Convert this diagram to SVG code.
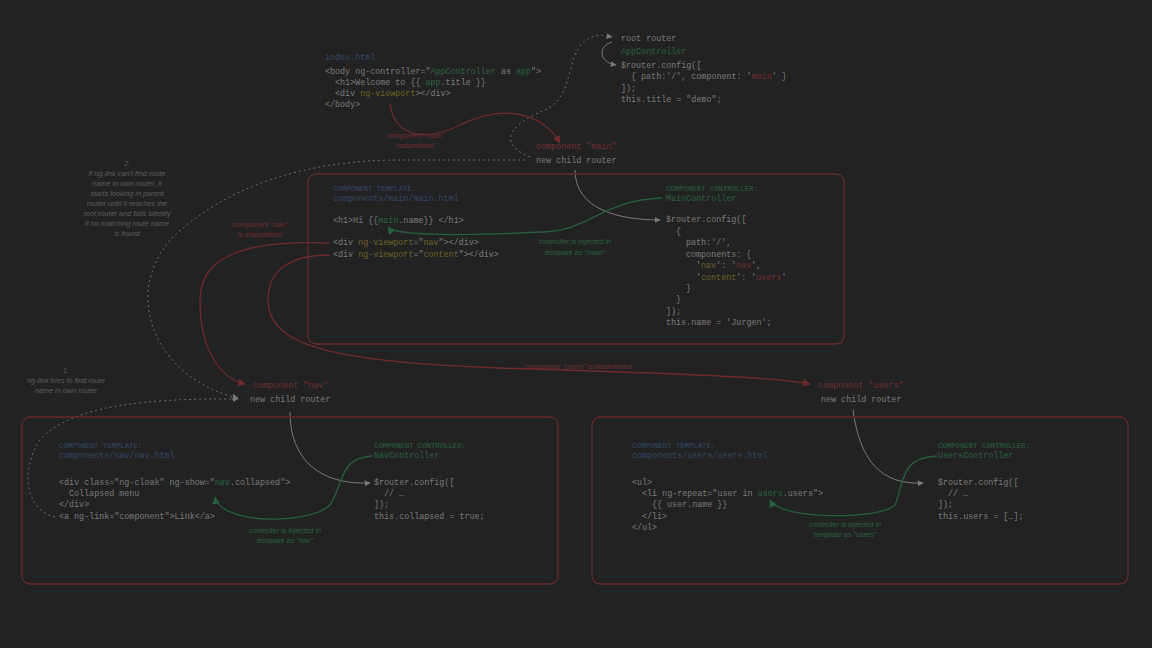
<svg xmlns="http://www.w3.org/2000/svg" width="1152" height="648" viewBox="0 0 1152 648">
<defs>
<style>
.c{font-family:"Liberation Mono",monospace;font-size:8.4px;fill:#7c7c7c}
.s{font-family:"Liberation Mono",monospace;font-size:7.3px}
.b{fill:#33496a}.g{fill:#2a6240}.r{fill:#723030}.y{fill:#6e6128}
.n{font-family:"Liberation Sans",sans-serif;font-size:7.3px;font-style:italic;text-anchor:middle}
.w{fill:#5e5e5e}
.box{fill:none;stroke:#642b2b;stroke-width:1.3}
.lr{fill:none;stroke:#6e2c2c;stroke-width:1.3}
.lg{fill:none;stroke:#285e3c;stroke-width:1.3}
.lw{fill:none;stroke:#7a7a7a;stroke-width:1}
.ld{fill:none;stroke:#6e6e6e;stroke-width:1;stroke-dasharray:2 3}
</style>
<marker id="ar" viewBox="0 0 10 10" refX="9" refY="5" markerWidth="6" markerHeight="6" orient="auto"><path d="M0,0L10,5L0,10z" fill="#6e2c2c"/></marker>
<marker id="ag" viewBox="0 0 10 10" refX="9" refY="5" markerWidth="6" markerHeight="6" orient="auto"><path d="M0,0L10,5L0,10z" fill="#285e3c"/></marker>
<marker id="aw" viewBox="0 0 10 10" refX="9" refY="5" markerWidth="6" markerHeight="6" orient="auto"><path d="M0,0L10,5L0,10z" fill="#7a7a7a"/></marker>
</defs>
<rect width="1152" height="648" fill="#222222"/>

<g id="connectors">
<path class="lw" d="M612,42 C598,46 598,62 616,65" marker-end="url(#aw)"/>
<path class="ld" d="M530,157 C490,140 520,120 545,110 C580,95 560,40 600,35 L612,37" marker-end="url(#aw)"/>
<path class="lr" d="M390,104 C395,140 430,140 460,125 C500,105 540,110 560,143" marker-end="url(#ar)"/>
<path class="lw" d="M575,170 C575,210 620,220 660,220" marker-end="url(#aw)"/>
<path class="lg" d="M662,198 C600,200 590,232 540,232 C470,236 395,236 388,227" marker-end="url(#ag)"/>
<path class="lr" d="M330,243 C260,240 200,250 200,300 C200,350 220,378 245,384" marker-end="url(#ar)"/>
<path class="lr" d="M330,255 C290,255 268,270 268,300 C268,345 330,362 500,368 C700,374 780,378 810,384" marker-end="url(#ar)"/>
<path class="ld" d="M525,160 L400,160 C300,160 220,190 170,240 C120,300 160,380 238,398" marker-end="url(#aw)"/>
<path class="ld" d="M55,517 C25,510 20,470 40,440 C70,405 150,398 238,399" marker-end="url(#aw)"/>
<path class="lw" d="M290,412 C290,460 320,485 370,483" marker-end="url(#aw)"/>
<path class="lg" d="M372,456 C340,458 345,480 330,505 C310,525 220,525 215,497" marker-end="url(#ag)"/>
<path class="lw" d="M853,410 C860,460 880,485 923,483" marker-end="url(#aw)"/>
<path class="lg" d="M937,456 C900,458 905,480 895,505 C880,520 780,520 770,500" marker-end="url(#ag)"/>
</g>

<g id="notes">
<text class="n w" x="127" y="166">2.</text>
<text class="n w" x="127" y="176">if ng-link can't find route</text>
<text class="n w" x="127" y="186">name in own router, it</text>
<text class="n w" x="127" y="196">starts looking in parent</text>
<text class="n w" x="127" y="206">router until it reaches the</text>
<text class="n w" x="127" y="216">root router and fails silently</text>
<text class="n w" x="127" y="226">if no matching route name</text>
<text class="n w" x="127" y="236">is found</text>
<text class="n w" x="66" y="373">1.</text>
<text class="n w" x="66" y="383">ng-link tries to find route</text>
<text class="n w" x="66" y="393">name in own router</text>
<text class="n r" x="415" y="138">component 'main'</text>
<text class="n r" x="415" y="148">instantiated</text>
<text class="n r" x="260" y="227">component "nav"</text>
<text class="n r" x="260" y="237">is instantiated</text>
<text class="n r" x="578" y="369">component "users" is instantiated</text>
<text class="n g" x="575" y="244">controller is injected in</text>
<text class="n g" x="575" y="255">template as "main"</text>
<text class="n g" x="285" y="533">controller is injected in</text>
<text class="n g" x="285" y="543">template as "nav"</text>
<text class="n g" x="845" y="527">controller is injected in</text>
<text class="n g" x="845" y="537">template as "users"</text>
</g>

<g id="index">
<text class="c b" x="325" y="60">index.html</text>
<text class="c" x="325" y="74">&lt;body ng-controller="<tspan class="g">AppController</tspan> as <tspan class="g">app</tspan>"&gt;</text>
<text class="c" x="335" y="85">&lt;h1&gt;Welcome to {{ <tspan class="g">app</tspan>.title }}</text>
<text class="c" x="335" y="96">&lt;div <tspan class="y">ng-viewport</tspan>&gt;&lt;/div&gt;</text>
<text class="c" x="325" y="107">&lt;/body&gt;</text>
</g>

<g id="root">
<text class="c" x="621" y="41">root router</text>
<text class="c g" x="621" y="54">AppController</text>
<text class="c" x="621" y="68">$router.config([</text>
<text class="c" x="631" y="79">{ path:'/', component: '<tspan class="r">main</tspan>' }</text>
<text class="c" x="621" y="91">]);</text>
<text class="c" x="621" y="102">this.title = "demo";</text>
</g>

<g id="main-router">
<text class="c r" x="536" y="149">component "main"</text>
<text class="c" x="536" y="163">new child router</text>
</g>

<g id="main">
<rect class="box" x="308" y="174" width="536" height="170" rx="8"/>
<text class="s b" x="333" y="191">COMPONENT TEMPLATE:</text>
<text class="c b" x="333" y="201">components/main/main.html</text>
<text class="c" x="333" y="223">&lt;h1&gt;Hi {{<tspan class="g">main</tspan>.name}} &lt;/h1&gt;</text>
<text class="c" x="333" y="245">&lt;div <tspan class="y">ng-viewport</tspan>="<tspan class="y">nav</tspan>"&gt;&lt;/div&gt;</text>
<text class="c" x="333" y="257">&lt;div <tspan class="y">ng-viewport</tspan>="<tspan class="y">content</tspan>"&gt;&lt;/div&gt;</text>
<text class="s g" x="666" y="191">COMPONENT CONTROLLER:</text>
<text class="c g" x="666" y="201">MainController</text>
<text class="c" x="666" y="222">$router.config([</text>
<text class="c" x="676" y="234">{</text>
<text class="c" x="686" y="245">path:'/',</text>
<text class="c" x="686" y="257">components: {</text>
<text class="c" x="696" y="268">'<tspan class="y">nav</tspan>': '<tspan class="r">nav</tspan>',</text>
<text class="c" x="696" y="280">'<tspan class="y">content</tspan>': '<tspan class="r">users</tspan>'</text>
<text class="c" x="686" y="291">}</text>
<text class="c" x="676" y="302">}</text>
<text class="c" x="666" y="314">]);</text>
<text class="c" x="666" y="325">this.name = 'Jurgen';</text>
</g>

<g id="nav-router">
<text class="c r" x="253" y="388">component "nav"</text>
<text class="c" x="250" y="402">new child router</text>
</g>

<g id="nav">
<rect class="box" x="22" y="417" width="536" height="167" rx="8"/>
<text class="s b" x="59" y="448">COMPONENT TEMPLATE:</text>
<text class="c b" x="59" y="458">components/nav/nav.html</text>
<text class="c" x="59" y="485">&lt;div class="ng-cloak" ng-show="<tspan class="g">nav</tspan>.collapsed"&gt;</text>
<text class="c" x="69" y="496">Collapsed menu</text>
<text class="c" x="59" y="507">&lt;/div&gt;</text>
<text class="c" x="59" y="519">&lt;a ng-link="component"&gt;Link&lt;/a&gt;</text>
<text class="s g" x="374" y="448">COMPONENT CONTROLLER:</text>
<text class="c g" x="374" y="458">NavController</text>
<text class="c" x="374" y="485">$router.config([</text>
<text class="c" x="384" y="496">// …</text>
<text class="c" x="374" y="507">]);</text>
<text class="c" x="374" y="519">this.collapsed = true;</text>
</g>

<g id="users-router">
<text class="c r" x="818" y="388">component "users"</text>
<text class="c" x="821" y="402">new child router</text>
</g>

<g id="users">
<rect class="box" x="592" y="417" width="536" height="167" rx="8"/>
<text class="s b" x="632" y="448">COMPONENT TEMPLATE:</text>
<text class="c b" x="632" y="458">components/users/users.html</text>
<text class="c" x="632" y="485">&lt;ul&gt;</text>
<text class="c" x="642" y="496">&lt;li ng-repeat="user in <tspan class="g">users</tspan>.users"&gt;</text>
<text class="c" x="652" y="507">{{ user.name }}</text>
<text class="c" x="642" y="519">&lt;/li&gt;</text>
<text class="c" x="632" y="530">&lt;/ul&gt;</text>
<text class="s g" x="938" y="448">COMPONENT CONTROLLER:</text>
<text class="c g" x="938" y="458">UsersController</text>
<text class="c" x="938" y="485">$router.config([</text>
<text class="c" x="948" y="496">// …</text>
<text class="c" x="938" y="507">]);</text>
<text class="c" x="938" y="519">this.users = […];</text>
</g>
</svg>
